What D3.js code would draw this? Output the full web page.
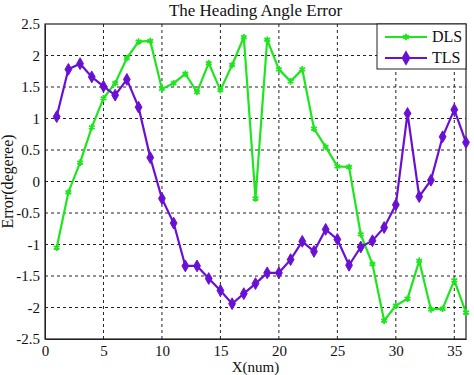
<!DOCTYPE html>
<html>
<head>
<meta charset="utf-8">
<script src="https://cdn.jsdelivr.net/npm/d3@7"></script>
<style>
  body { margin: 0; background: #fff; }
  svg { display: block; font-family: "Liberation Serif", "Times New Roman", serif; }
  .grid line { stroke: #222; stroke-width: 1px; stroke-dasharray: 3,3; }
  .axis path, .axis line { stroke: #222; }
  .axis text { fill: #111; }
</style>
</head>
<body>
<svg id="chart" width="474" height="375"></svg>
<script>
/* data */
const xs = d3.range(1, 37);
const dls = [-1.05, -0.17, 0.30, 0.86, 1.32, 1.56, 1.96, 2.22, 2.23, 1.47,
             1.56, 1.71, 1.42, 1.88, 1.45, 1.85, 2.29, -0.27, 2.25, 1.78,
             1.59, 1.78, 0.84, 0.55, 0.24, 0.23, -0.84, -1.31, -2.21, -1.97,
             -1.86, -1.26, -2.03, -2.02, -1.57, -2.08];
const tls = [1.03, 1.78, 1.87, 1.66, 1.51, 1.37, 1.62, 1.18, 0.38, -0.27,
             -0.66, -1.34, -1.34, -1.54, -1.73, -1.94, -1.78, -1.62, -1.45, -1.45,
             -1.24, -0.95, -1.11, -0.76, -0.92, -1.33, -1.04, -0.94, -0.73, -0.37,
             1.08, -0.24, 0.02, 0.71, 1.14, 0.62];
const xTicks = [0, 5, 10, 15, 20, 25, 30, 35];
const yTicks = [-2.5, -2, -1.5, -1, -0.5, 0, 0.5, 1, 1.5, 2, 2.5];
const seriesNames = ['DLS', 'TLS'];

const width = 474, height = 375;
const margin = {left: 45, right: 8, top: 24, bottom: 36};
const serif = '"Liberation Serif", "Times New Roman", serif';

const svg = d3.select('#chart');

const xScale = d3.scaleLinear().domain([0, 36]).range([margin.left, width - margin.right]);
const yScale = d3.scaleLinear().domain([-2.5, 2.5]).range([height - margin.bottom, margin.top]);

/* dashed grid */
const grid = svg.append('g').attr('class', 'grid');
grid.selectAll('line.v').data(xTicks.filter(d => d > 0))
  .join('line').attr('class', 'v')
  .attr('x1', d => xScale(d)).attr('x2', d => xScale(d))
  .attr('y1', yScale(2.5)).attr('y2', yScale(-2.5));
grid.selectAll('line.h').data(yTicks.filter(d => d > -2.5 && d < 2.5))
  .join('line').attr('class', 'h')
  .attr('x1', xScale(0)).attr('x2', xScale(36))
  .attr('y1', d => yScale(d)).attr('y2', d => yScale(d));

/* axes */
const fmt = d => String(d);
svg.append('g').attr('class', 'axis')
  .attr('transform', `translate(0,${yScale(-2.5)})`)
  .call(d3.axisBottom(xScale).tickValues(xTicks).tickFormat(fmt).tickSize(0).tickPadding(6))
  .attr('font-family', serif).attr('font-size', 15);
svg.append('g').attr('class', 'axis')
  .attr('transform', `translate(${xScale(0)},0)`)
  .call(d3.axisLeft(yScale).tickValues(yTicks).tickFormat(fmt).tickSize(0).tickPadding(5))
  .attr('font-family', serif).attr('font-size', 15);

/* box */
svg.append('rect')
  .attr('x', xScale(0)).attr('y', yScale(2.5))
  .attr('width', xScale(36) - xScale(0)).attr('height', yScale(-2.5) - yScale(2.5))
  .attr('fill', 'none').attr('stroke', '#222').attr('stroke-width', 1.2);

/* lines */
const green = '#1ee61e', purple = '#6a10d4';
const line = d3.line().x((d, i) => xScale(xs[i])).y(d => yScale(d));

svg.append('path').datum(dls)
  .attr('d', line).attr('fill', 'none').attr('stroke', green).attr('stroke-width', 2.2);
svg.append('g').selectAll('path').data(dls).join('path')
  .attr('transform', (d, i) => `translate(${xScale(xs[i])},${yScale(d)})`)
  .attr('d', d3.symbol(d3.symbolAsterisk, 30))
  .attr('fill', 'none').attr('stroke', green).attr('stroke-width', 1.8);

svg.append('path').datum(tls)
  .attr('d', line).attr('fill', 'none').attr('stroke', purple).attr('stroke-width', 2.2);
svg.append('g').selectAll('path').data(tls).join('path')
  .attr('transform', (d, i) => `translate(${xScale(xs[i])},${yScale(d)})`)
  .attr('d', d3.symbol(d3.symbolDiamond, 40))
  .attr('fill', purple).attr('stroke', purple).attr('stroke-width', 1);

/* title and labels */
svg.append('text').attr('x', (xScale(0) + xScale(36)) / 2).attr('y', 16)
  .attr('text-anchor', 'middle').attr('font-size', 17).attr('fill', '#111')
  .text('The Heading Angle Error');
svg.append('text').attr('x', (xScale(0) + xScale(36)) / 2).attr('y', 372)
  .attr('text-anchor', 'middle').attr('font-size', 15).attr('fill', '#111')
  .text('X(num)');
svg.append('text')
  .attr('transform', `translate(13,${(yScale(2.5) + yScale(-2.5)) / 2}) rotate(-90)`)
  .attr('text-anchor', 'middle').attr('font-size', 16).attr('fill', '#111')
  .text('Error(degeree)');

/* legend */
const legend = svg.append('g').attr('transform', `translate(${xScale(36) - 89},${yScale(2.5)})`);
legend.append('rect').attr('width', 89).attr('height', 45)
  .attr('fill', '#fff').attr('stroke', '#222').attr('stroke-width', 1);
const entries = [
  {name: seriesNames[0], color: green, sym: d3.symbolAsterisk, fill: 'none', size: 30},
  {name: seriesNames[1], color: purple, sym: d3.symbolDiamond, fill: purple, size: 40}
];
entries.forEach((e, i) => {
  const y = 13 + i * 21;
  legend.append('line').attr('x1', 8).attr('x2', 50).attr('y1', y).attr('y2', y)
    .attr('stroke', e.color).attr('stroke-width', 2.2);
  legend.append('path').attr('transform', `translate(29,${y})`)
    .attr('d', d3.symbol(e.sym, e.size))
    .attr('fill', e.fill).attr('stroke', e.color).attr('stroke-width', 1.8);
  legend.append('text').attr('x', 55).attr('y', y + 5)
    .attr('font-size', 16).attr('fill', '#111').text(e.name);
});
</script>
</body>
</html>
